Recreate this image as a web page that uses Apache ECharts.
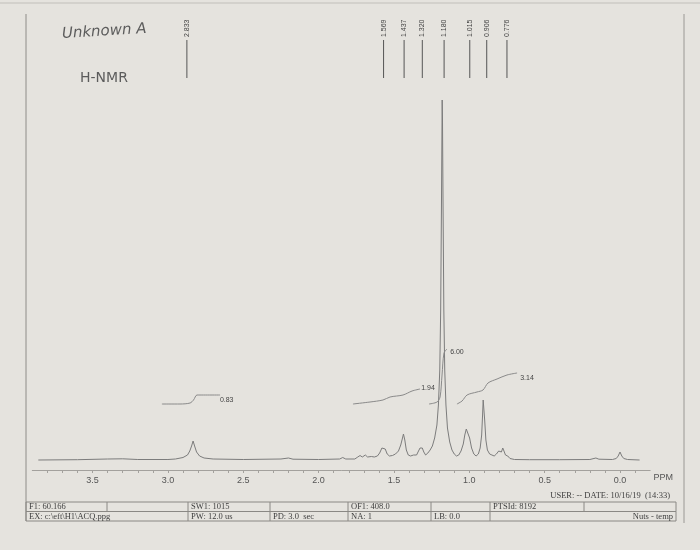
<!DOCTYPE html>
<html><head><meta charset="utf-8">
<script src="https://cdn.jsdelivr.net/npm/echarts@6/dist/echarts.min.js"></script>
<style>html,body{margin:0;padding:0;background:#e5e3de}#c{width:700px;height:550px}</style>
</head><body><div id="c"></div>
<script>
// 1H NMR spectrum trace: [ppm, intensity]
const spectrum = [[3.86,0],[3.6,0.3],[3.4,1],[3.3,1.2],[3.2,0.5],[3.0,0.5],[2.95,1],[2.9,2.5],[2.87,5],[2.855,9],[2.843,14],[2.833,19],[2.823,14],[2.81,8],[2.79,4],[2.76,2],[2.7,1],[2.5,0.5],[2.25,1],[2.2,2],[2.17,0.8],[2.0,0.5],[1.86,1],[1.84,2.5],[1.82,1],[1.76,1],[1.74,3],[1.725,4.5],[1.71,3],[1.70,4],[1.69,5],[1.675,3],[1.65,3.5],[1.63,3],[1.61,4],[1.595,7],[1.58,12],[1.569,14],[1.558,11],[1.545,6],[1.53,4],[1.51,4.5],[1.49,6],[1.47,9],[1.455,15],[1.445,21],[1.437,26],[1.428,20],[1.418,10],[1.405,5],[1.39,4],[1.37,5],[1.35,5],[1.337,9],[1.327,12],[1.32,10],[1.312,12],[1.302,8],[1.29,5],[1.275,7],[1.26,10],[1.245,14],[1.23,22],[1.215,35],[1.205,55],[1.196,90],[1.19,150],[1.185,250],[1.181,340],[1.18,360],[1.178,340],[1.174,250],[1.169,150],[1.163,90],[1.155,55],[1.145,32],[1.13,18],[1.115,10],[1.1,6],[1.085,4],[1.07,5],[1.055,9],[1.04,16],[1.03,25],[1.02,31],[1.015,32],[1.008,30],[0.998,22],[0.985,12],[0.97,6],[0.955,4],[0.94,6],[0.928,12],[0.918,25],[0.912,45],[0.908,60],[0.906,62],[0.903,58],[0.898,40],[0.89,20],[0.88,10],[0.865,6],[0.85,5],[0.835,4],[0.82,6],[0.805,9],[0.795,11],[0.787,8],[0.778,12],[0.77,9],[0.76,5],[0.752,7],[0.745,4],[0.73,1.5],[0.7,0.5],[0.6,0.3],[0.4,0.3],[0.2,0.5],[0.16,2],[0.14,0.8],[0.05,0.5],[0.025,1.5],[0.012,4],[0.0,8],[-0.012,4],[-0.025,1.5],[-0.05,0.5],[-0.13,0]];

// peak-pick labels
const peakPpm = [2.833,1.569,1.437,1.320,1.180,1.015,0.906,0.776];
const peakLabels = ['2.833','1.569','1.437','1.320','1.180','1.015','0.906','0.776'];

// integral curves: [ppm, level]
const integral1 = [[3.04,56],[2.92,56],[2.853,57],[2.83,60],[2.807,65],[2.75,65],[2.654,65]];
const integral2 = [[1.772,56],[1.659,58],[1.573,60],[1.526,63],[1.44,65],[1.38,69],[1.327,71]];
const integral3 = [[1.267,56],[1.214,58],[1.194,63],[1.181,85],[1.168,107],[1.148,111]];
const integral4 = [[1.082,56],[1.048,59],[1.015,65],[0.949,68],[0.909,70],[0.876,77],[0.816,81],[0.75,85],[0.683,87]];
const integralLabelPos = [[2.61,60],[1.274,72],[1.082,108],[0.617,82]];
const integralLabelText = ['0.83','1.94','6.00','3.14'];

// axis ticks
const xLabelValues = [3.5,3.0,2.5,2.0,1.5,1.0,0.5,0.0];
const xMinorTicks = [3.8,3.7,3.6,3.5,3.4,3.3,3.2,3.1,3.0,2.9,2.8,2.7,2.6,2.5,2.4,2.3,2.2,2.1,2.0,1.9,1.8,1.7,1.6,1.5,1.4,1.3,1.2,1.1,1.0,0.9,0.8,0.7,0.6,0.5,0.4,0.3,0.2,0.1,0.0,-0.1];

const chart = echarts.init(document.getElementById('c'), null, {renderer:'canvas'});
const serif = '"Liberation Serif", "DejaVu Serif", serif';
const hand = '"DejaVu Sans", sans-serif';

function tableGraphics(){
  const g = [];
  const st = {stroke:'#8a8884', lineWidth:1};
  const hl = (x1,x2,y)=>g.push({type:'line',shape:{x1,y1:y,x2,y2:y},style:st,silent:true});
  const vl = (x,y1,y2)=>g.push({type:'line',shape:{x1:x,y1,x2:x,y2},style:st,silent:true});
  hl(26,676,502); hl(26,676,511.5); hl(26,676,521);
  [26,107,188,270,348,431,490,584,676].forEach(x=>vl(x,502,511.5));
  [26,188,270,348,431,490,676].forEach(x=>vl(x,511.5,521));
  const t = (x,y,s,align)=>g.push({type:'text',x,y,silent:true,style:{text:s,font:'8.5px '+serif,fill:'#3e3e3e',align:align||'left',verticalAlign:'middle'}});
  t(29,507,'F1: 60.166'); t(191,507,'SW1: 1015'); t(351,507,'OF1: 408.0'); t(493,507,'PTSId: 8192');
  t(29,516.5,'EX: c:\\eft\\H1\\ACQ.ppg'); t(191,516.5,'PW: 12.0 us'); t(273,516.5,'PD: 3.0  sec');
  t(351,516.5,'NA: 1'); t(434,516.5,'LB: 0.0'); t(673,516.5,'Nuts - temp','right');
  t(670,496,'USER: -- DATE: 10/16/19  (14:33)','right');
  return g;
}

const option = {
  backgroundColor:'#e5e3de',
  animation:false,
  grid:{left:32.3, right:49.86, top:10, bottom:80},
  xAxis:[{
    type:'value', inverse:true, min:-0.2, max:3.9, position:'bottom',
    axisLine:{show:true, onZero:false, lineStyle:{color:'#a3a19d', width:1}},
    axisTick:{show:true, customValues:xMinorTicks, length:3, lineStyle:{color:'#a3a19d'}},
    axisLabel:{show:true, customValues:xLabelValues, formatter:v=>Number(v).toFixed(1), color:'#555', fontSize:9, margin:6, fontFamily:'"Liberation Sans", Arial, sans-serif'},
    splitLine:{show:false}
  },{
    type:'value', inverse:true, min:-0.1442, max:3.8265, position:'top', show:false
  }],
  yAxis:{type:'value', min:-10, max:450, show:false},
  graphic:[
    {type:'line',shape:{x1:26,y1:14,x2:26,y2:521},style:{stroke:'#8e8c88',lineWidth:1},silent:true},
    {type:'line',shape:{x1:684,y1:14,x2:684,y2:523},style:{stroke:'#9a9894',lineWidth:1},silent:true},
    {type:'line',shape:{x1:0,y1:3,x2:700,y2:3},style:{stroke:'#d3d1cc',lineWidth:2},silent:true},
    {type:'text',x:62,y:34,rotation:0.06,silent:true,style:{text:'Unknown A',font:'italic 15px '+hand,fill:'#5c5c5c',verticalAlign:'middle'}},
    {type:'text',x:80,y:78,silent:true,style:{text:'H-NMR',font:'14px '+hand,fill:'#5c5c5c',verticalAlign:'middle'}},
    {type:'text',x:673,y:478,silent:true,style:{text:'PPM',font:'9px "Liberation Sans", Arial, sans-serif',fill:'#555',align:'right',verticalAlign:'middle'}}
  ].concat(tableGraphics()),
  series:[
    {type:'line', data:spectrum, xAxisIndex:0, showSymbol:false, symbol:'none', lineStyle:{color:'#7c7c7c', width:1}, z:3},
    {type:'line', data:integral1, showSymbol:false, symbol:'none', smooth:0.3, lineStyle:{color:'#8a8a8a', width:1}},
    {type:'line', data:integral2, showSymbol:false, symbol:'none', smooth:0.3, lineStyle:{color:'#8a8a8a', width:1}},
    {type:'line', data:integral3, showSymbol:false, symbol:'none', smooth:0.3, lineStyle:{color:'#8a8a8a', width:1}},
    {type:'line', data:integral4, showSymbol:false, symbol:'none', smooth:0.3, lineStyle:{color:'#8a8a8a', width:1}},
    {type:'custom', xAxisIndex:1, data:peakPpm.map(p=>[p]), renderItem:(params,api)=>{
      const p = api.value(0);
      const a = api.coord([p,420]); const b = api.coord([p,382]);
      return {type:'group', children:[
        {type:'line', shape:{x1:a[0],y1:a[1],x2:b[0],y2:b[1]}, style:{stroke:'#555',lineWidth:1}},
        {type:'text', x:a[0], y:a[1]-3, rotation:Math.PI/2, style:{text:peakLabels[params.dataIndex], font:'7px "Liberation Sans", Arial, sans-serif', fill:'#444', align:'left', verticalAlign:'middle'}}
      ]};
    }},
    {type:'custom', data:integralLabelPos, renderItem:(params,api)=>{
      const c = api.coord([api.value(0), api.value(1)]);
      return {type:'text', x:c[0], y:c[1], style:{text:integralLabelText[params.dataIndex], font:'7px "Liberation Sans", Arial, sans-serif', fill:'#444', align:'center', verticalAlign:'middle'}};
    }}
  ]
};
chart.setOption(option);
</script></body></html>
